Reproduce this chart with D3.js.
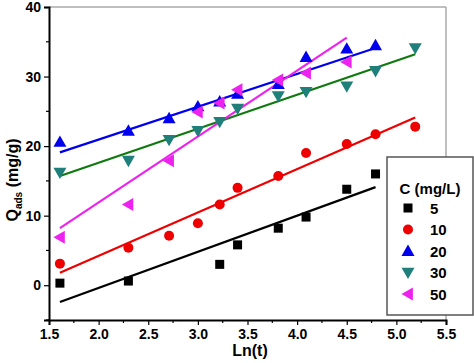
<!DOCTYPE html>
<html><head><meta charset="utf-8">
<script src="https://cdn.jsdelivr.net/npm/d3@7"></script>
<style>body{margin:0;background:#fff}svg{display:block}text{font-family:"Liberation Sans",Arial,sans-serif;font-weight:bold}</style>
</head><body><div id="chart"></div>
<script>
const xLn = [1.61, 2.30, 2.71, 3.00, 3.22, 3.40, 3.81, 4.09, 4.50, 4.79, 5.19];
const seriesNames = ["5", "10", "20", "30", "50"];
const q5  = [0.3, 0.6, null, null, 3.0, 5.8, 8.2, 9.8, 13.8, 16.0, null];
const q10 = [3.1, 5.4, 7.1, 8.9, 11.6, 14.0, 15.7, 19.0, 20.3, 21.7, 22.8];
const q20 = [20.6, 22.2, 24.0, 25.7, 26.4, 27.5, 28.9, 32.8, 34.0, 34.5, null];
const q30 = [16.2, 17.9, 20.9, 22.2, 23.5, 25.4, 27.2, 27.8, 28.6, 30.8, 34.1];
const q50 = [6.9, 11.6, 17.9, 24.9, 26.2, 28.1, 29.5, 30.5, 32.1, null, null];
// fitted line endpoints [x0, y0, x1, y1]
const fit5  = [1.61, -2.4, 4.79, 14.1];
const fit10 = [1.61, 1.8, 5.19, 24.1];
const fit20 = [1.61, 19.1, 4.79, 34.1];
const fit30 = [1.61, 15.7, 5.19, 33.2];
const fit50 = [1.61, 8.2, 4.50, 35.6];
const xTicks = [1.5, 2.0, 2.5, 3.0, 3.5, 4.0, 4.5, 5.0, 5.5];
const yTicks = [0, 10, 20, 30, 40];

const W = 474, H = 363;
const svg = d3.select("#chart").append("svg").attr("width", W).attr("height", H);
const x = d3.scaleLinear().domain([1.5, 5.5]).range([49, 446]);
const y = d3.scaleLinear().domain([-5, 40]).range([320, 7]);

const series = [
  {name: "5", vals: q5, fit: fit5, mark: "#000000", line: "#000000", sym: "square"},
  {name: "10", vals: q10, fit: fit10, mark: "#ee0000", line: "#ee0000", sym: "circle"},
  {name: "20", vals: q20, fit: fit20, mark: "#0000ee", line: "#0000ee", sym: "up"},
  {name: "30", vals: q30, fit: fit30, mark: "#1f7f7a", line: "#0f7a0f", sym: "down"},
  {name: "50", vals: q50, fit: fit50, mark: "#ee22ee", line: "#ee22ee", sym: "left"}
];

// frame
svg.append("line").attr("x1", x(1.5)).attr("x2", x(5.5)).attr("y1", y(40)).attr("y2", y(40)).attr("stroke", "#aaa").attr("stroke-width", 1.5);
svg.append("line").attr("x1", x(5.5)).attr("x2", x(5.5)).attr("y1", y(40)).attr("y2", y(-5)).attr("stroke", "#aaa").attr("stroke-width", 1.5);

// axes
const xAxis = d3.axisBottom(x).tickValues(xTicks).tickFormat(d3.format(".1f")).tickSize(5).tickPadding(4);
const gx = svg.append("g").attr("transform", `translate(0,${y(-5)})`).call(xAxis);
const xMinor = d3.range(1.75, 5.5, 0.5);
gx.selectAll(".minor").data(xMinor).enter().append("line").attr("x1", d => x(d)).attr("x2", d => x(d)).attr("y1", 0).attr("y2", 3).attr("stroke", "#000").attr("stroke-width", 1.2);
const yAxis = d3.axisLeft(y).tickValues(yTicks).tickSize(5).tickPadding(3);
const gy = svg.append("g").attr("transform", `translate(${x(1.5)},0)`).call(yAxis);
const yMinor = [-5, 5, 15, 25, 35];
gy.selectAll(".minor").data(yMinor).enter().append("line").attr("x1", 0).attr("x2", -3).attr("y1", d => y(d)).attr("y2", d => y(d)).attr("stroke", "#000").attr("stroke-width", 1.2);
[gx, gy].forEach(g => {
  g.select(".domain").attr("stroke", "#000").attr("stroke-width", 2);
  g.selectAll(".tick line").attr("stroke", "#000").attr("stroke-width", 1.2);
  g.selectAll(".tick text").attr("font-size", 14).attr("font-weight", "bold").attr("font-family", "Liberation Sans, Arial, sans-serif").attr("fill", "#000");
});

// axis titles
svg.append("text").attr("x", 250).attr("y", 356).attr("text-anchor", "middle").attr("font-size", 16).text("Ln(t)");
const yl = svg.append("text").attr("transform", "translate(18,180) rotate(-90)").attr("text-anchor", "middle").attr("font-size", 16);
yl.append("tspan").text("Q");
yl.append("tspan").attr("font-size", 10).attr("dy", 4).text("ads");
yl.append("tspan").attr("dy", -4).text(" (mg/g)");

// fit lines
series.forEach(s => {
  svg.append("line").attr("x1", x(s.fit[0])).attr("y1", y(s.fit[1])).attr("x2", x(s.fit[2])).attr("y2", y(s.fit[3]))
    .attr("stroke", s.line).attr("stroke-width", 2.2);
});

function symPath(sym, r) {
  if (sym === "up") return `M0,${-r}L${r*1.0},${r*0.75}L${-r*1.0},${r*0.75}Z`;
  if (sym === "down") return `M0,${r}L${r*1.0},${-r*0.75}L${-r*1.0},${-r*0.75}Z`;
  if (sym === "left") return `M${-r},0L${r*0.75},${-r*1.0}L${r*0.75},${r*1.0}Z`;
  return null;
}
function drawMarker(g, s, cx, cy) {
  if (s.sym === "square") g.append("rect").attr("x", cx - 4.5).attr("y", cy - 4.5).attr("width", 9).attr("height", 9).attr("fill", s.mark);
  else if (s.sym === "circle") g.append("circle").attr("cx", cx).attr("cy", cy).attr("r", 5).attr("fill", s.mark);
  else g.append("path").attr("transform", `translate(${cx},${cy})`).attr("d", symPath(s.sym, 6.5)).attr("fill", s.mark);
}
const gm = svg.append("g");
series.forEach(s => {
  s.vals.forEach((v, i) => { if (v !== null) drawMarker(gm, s, x(xLn[i]), y(v)); });
});

// legend
const lg = svg.append("g");
lg.append("rect").attr("x", 387).attr("y", 157).attr("width", 86).attr("height", 158).attr("fill", "#fff").attr("stroke", "#555").attr("stroke-width", 1.5);
lg.append("text").attr("x", 430).attr("y", 194).attr("text-anchor", "middle").attr("font-size", 15).text("C (mg/L)");
series.forEach((s, i) => {
  const cy = 208 + i * 21.5;
  drawMarker(lg, Object.assign({}, s, {}), 408, cy);
  lg.append("text").attr("x", 430).attr("y", cy + 5.5).attr("font-size", 15).text(s.name);
});
</script></body></html>
